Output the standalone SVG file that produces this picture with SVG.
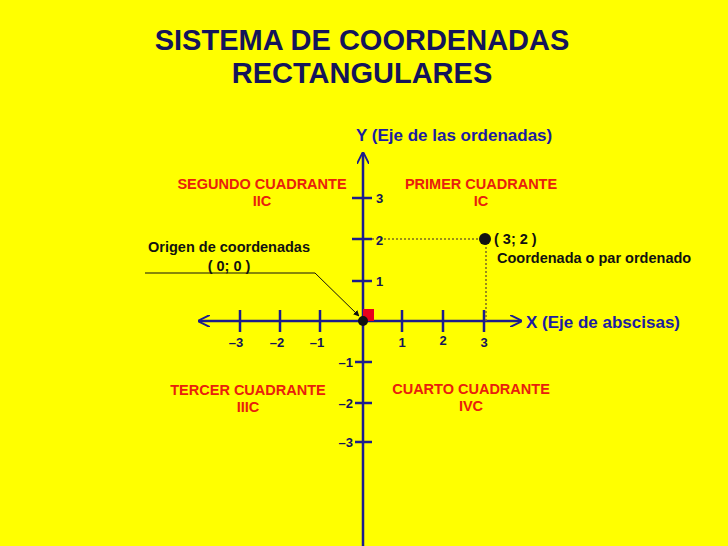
<svg xmlns="http://www.w3.org/2000/svg" width="728" height="546" viewBox="0 0 728 546">
<style>
text{font-family:"Liberation Sans",Arial,sans-serif;font-weight:bold}
.t{fill:#14145a;font-size:29px}
.ax{stroke:#1c1c8c;stroke-width:2.5;fill:none}
.n{fill:#14145a;font-size:13px}
.q{fill:#e8200c;font-size:14.5px;text-anchor:middle}
.al{fill:#1c1ca0;font-size:17px}
.b{fill:#111;font-size:14.5px}
</style>
<defs>
<marker id="ar" viewBox="0 0 10 10" refX="9" refY="5" markerWidth="5" markerHeight="5" orient="auto-start-reverse"><path d="M0,0L10,5L0,10" fill="none" stroke="#1c1c8c" stroke-width="1.5"/></marker>
<marker id="ab" viewBox="0 0 10 10" refX="9" refY="5" markerWidth="6" markerHeight="6" orient="auto"><path d="M0,0L10,5L0,10z" fill="#111"/></marker>
</defs>
<rect width="728" height="546" fill="#ffff00"/>
<g id="title"><text class="t" x="362" y="50" text-anchor="middle">SISTEMA DE COORDENADAS</text><text class="t" x="362" y="83" text-anchor="middle">RECTANGULARES</text></g>
<g id="connectors">
<line class="ax" x1="199" y1="321" x2="521" y2="321" marker-start="url(#ar)" marker-end="url(#ar)"/>
<line class="ax" x1="363" y1="546" x2="363" y2="153" marker-end="url(#ar)"/>
<g class="ax"><path d="M240,310v22M280,310v22M320,310v22M402,310v22M443,310v22M484,310v22"/>
<path d="M352,198h20M352,239h20M352,281h20M355,362h17M355,403h17M355,442h17"/></g>
<path d="M372,239H484M486,239V321" stroke="#7a6a20" stroke-width="1.5" stroke-dasharray="2,2" fill="none"/>
<path d="M145,273H315L359,316" stroke="#111" stroke-width="1" fill="none" marker-end="url(#ab)"/>
</g>
<g id="nums">
<text class="n" x="236" y="347" text-anchor="middle">–3</text><text class="n" x="277" y="347" text-anchor="middle">–2</text><text class="n" x="317" y="347" text-anchor="middle">–1</text>
<text class="n" x="402" y="347" text-anchor="middle">1</text><text class="n" x="443" y="345" text-anchor="middle">2</text><text class="n" x="484" y="347" text-anchor="middle">3</text>
<text class="n" x="376" y="203">3</text><text class="n" x="376" y="245">2</text><text class="n" x="376" y="286">1</text>
<text class="n" x="353" y="367" text-anchor="end">–1</text><text class="n" x="353" y="408" text-anchor="end">–2</text><text class="n" x="353" y="447" text-anchor="end">–3</text>
</g>
<g id="axislabels"><text class="al" x="356" y="141">Y (Eje de las ordenadas)</text><text class="al" x="526" y="328">X (Eje de abscisas)</text></g>
<g id="quadrants">
<text class="q" x="262" y="189">SEGUNDO CUADRANTE</text><text class="q" x="262" y="206">IIC</text>
<text class="q" x="481" y="189">PRIMER CUADRANTE</text><text class="q" x="481" y="206">IC</text>
<text class="q" x="248" y="395">TERCER CUADRANTE</text><text class="q" x="248" y="412">IIIC</text>
<text class="q" x="471" y="394">CUARTO CUADRANTE</text><text class="q" x="471" y="411">IVC</text>
</g>
<g id="origin"><rect x="363" y="309" width="11" height="12" fill="#e8001c"/><circle cx="363" cy="321" r="5" fill="#111"/>
<text class="b" x="229" y="252" text-anchor="middle">Origen de coordenadas</text><text class="b" x="229" y="271" text-anchor="middle">( 0; 0 )</text></g>
<g id="point"><circle cx="485" cy="239" r="6" fill="#111"/><text class="b" x="494" y="244">( 3; 2 )</text><text class="b" x="497" y="263">Coordenada o par ordenado</text></g>
</svg>
